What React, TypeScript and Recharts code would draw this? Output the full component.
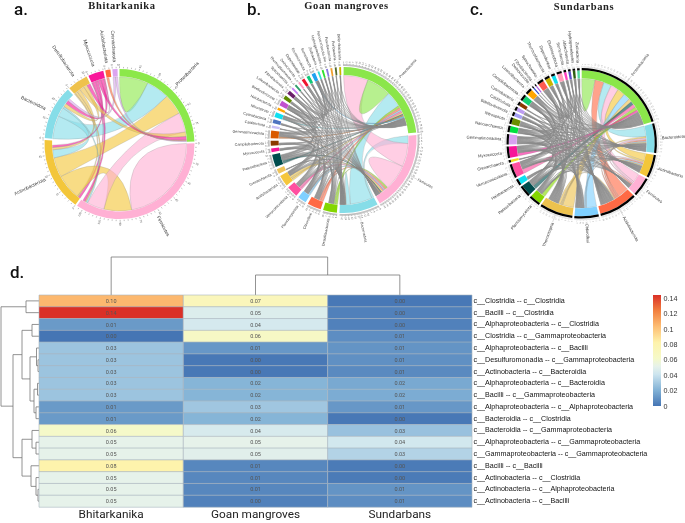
import React from "react";
import { BarChart, Bar, Cell, XAxis, YAxis, LabelList, Pie, PieChart, Customized } from "recharts";

/* ---------- chord data ---------- */
const bhitNames = ["Proteobacteria", "Firmicutes", "Actinobacteriota", "Bacteroidota", "Desulfobacterota", "Myxococcota", "Acidobacteriota", "Crenarchaeota"];
const bhitValues = [88, 125, 57, 42, 16, 12, 4, 4];
const bhitColors = ["#8CE84A", "#FFB0D4", "#F3C63A", "#86DDE8", "#EFC24C", "#F9179A", "#FF6B3A", "#DCA4F0"];
const bhitLinks: number[][] = [
  [0, 0, 12, 13, 1], [1, 1, 40, 40, 1], [2, 5, 2, 1, 1], [2, 4, 1, 1, 1], [1, 2, 24, 22, 1], [0, 3, 20, 20, 1],
  [0, 2, 18, 17, 1], [2, 3, 7, 8, 1], [0, 1, 17, 15, 1], [1, 3, 1.5, 1.5, 1], [1, 4, 1, 2, 1], [1, 5, 2, 3, 1],
  [2, 4, 2, 3, 1], [2, 5, 2, 2, 1], [0, 4, 4, 4, 1], [3, 4, 3, 3, 1], [0, 5, 3, 3, 1], [3, 5, 3, 3, 1],
  [4, 5, 3, 1, 1], [3, 7, 2, 2, 1], [0, 6, 0.7, 2, 1], [0, 7, 0.7, 2, 1],
];

const goanNames = ["Proteobacteria", "Firmicutes", "Bacteroidota", "Desulfobacterota", "Chloroflexi", "Planctomycetota", "Verrucomicrobiota", "Acidobacteriota", "Crenarchaeota", "Patescibacteria", "Myxococcota", "Campilobacterota", "Gemmatimonadota", "Calditrichota", "Cyanobacteria", "Nitrospirota", "Halobacterota", "Bdellovibrionota", "Latescibacterota", "Fibrobacterota", "Spirochaetota", "Thermoplasmatota", "Deinococcota", "Dependentiae", "Elusimicrobiota", "Sumerlaeota", "Zixibacteria", "Hydrogenedentes", "Nanoarchaeota-like", "Fusobacteriota", "Poribacteria", "Deferribacterota"];
const goanValues = [84, 64, 31, 11, 11, 7, 9, 9, 4, 10, 3, 4, 6, 2, 3, 4, 2, 4, 3, 3, 1.5, 1.5, 1.5, 2.5, 2.5, 3, 1.5, 1.5, 1.5, 1.5, 1.5, 1.5];
const goanColors = ["#8BE64A", "#FFB0D4", "#86DDE8", "#84D600", "#FF6A45", "#7FD0FF", "#FF4FA0", "#F5C63C", "#EFC45A", "#004D4D", "#F7169A", "#8B3A00", "#D95A00", "#C9C0F5", "#4E74C0", "#10DFF0", "#FFA500", "#C050D0", "#5E8A00", "#6B1F6B", "#C77DF3", "#2E9E6B", "#FF9EC4", "#F0142D", "#10C878", "#1FA2F0", "#30E0D0", "#30E030", "#8A7BE0", "#F0A030", "#556B2F", "#C8B400"];
const goanColored: number[][] = [
  [1, 2, 7, 2, 1], [0, 1, 22, 21, 1], [0, 0, 11, 11, 1], [1, 1, 11, 12, 1], [0, 2, 14, 21, 1], [2, 2, 2, 2, 1],
  [0, 3, 2, 2, 1], [0, 4, 2, 2.5, 1], [0, 5, 1.2, 1, 1], [0, 6, 1.5, 1.5, 1], [0, 7, 1.5, 2, 1], [0, 9, 1, 1.5, 1],
  [0, 12, 1, 1, 1], [0, 15, 0.8, 0.8, 1], [0, 25, 0.8, 1, 1], [1, 3, 1.5, 1.5, 1], [1, 4, 1.5, 1.5, 1], [1, 5, 1, 1, 1],
  [1, 6, 1, 1.5, 1], [1, 7, 1.5, 1.5, 1], [1, 9, 1, 1.5, 1], [1, 12, 0.8, 1, 1], [2, 7, 0.5, 2, 1],
];
const goanGray: number[][] = [
  [0, 0.35, 8, 10, 11, 13, 14, 16, 17, 18, 19, 20, 21, 22, 23, 24, 26, 27, 28, 29, 30, 31],
  [1, 0.25, 8, 10, 11, 13, 14, 15, 16, 17, 18, 19, 20, 21, 23, 24, 25, 27, 29, 31],
  [2, 0.2, 3, 4, 5, 6, 8, 9, 10, 11, 12, 13, 14, 15, 16, 17, 18, 19, 20, 21, 22, 23, 24, 26, 27, 28, 29, 30, 31],
  [3, 0.5, 4, 5, 6, 7, 9, 12, 15, 17, 25], [4, 0.5, 5, 6, 7, 9, 12, 14, 17, 23], [5, 0.4, 6, 7, 9, 10, 12, 15, 19, 25],
  [6, 0.4, 7, 9, 11, 12, 17, 18], [7, 0.4, 9, 10, 11, 12, 14, 17, 18, 24], [9, 0.4, 10, 11, 12, 15, 16, 17, 19],
  [12, 0.3, 15, 17, 18, 25, 26], [15, 0.25, 17, 19, 24, 25], [17, 0.25, 18, 21, 23, 25, 27], [19, 0.2, 22, 24, 26, 28],
  [23, 0.2, 25, 27, 29], [25, 0.2, 26, 28, 30, 31],
];

const sundNames = ["Proteobacteria", "Bacteroidota", "Actinobacteria", "Firmicutes", "Acidobacteriota", "Chloroflexi", "Thermotogota", "Planctomycetota", "Patescibacteria", "Halobacterota", "Verrucomicrobiota", "Crenarchaeota", "Myxococcota", "Gemmatimonadota", "Nanoarchaeota", "Nitrospirota", "Bdellovibrionota", "Calditrichota", "Cyanobacteria", "Campilobacterota", "Latescibacterota", "Deinococcota", "Fibrobacterota", "Spirochaetota", "Thermoplasmatota", "Dependentiae", "Elusimicrobiota", "Sumerlaeota", "Altiarchaeota", "Hydrogenedentes", "Zixibacteria"];
const sundValues = [73, 23, 18, 15, 30, 19, 26, 9, 9, 5, 11, 2, 9, 8, 5, 5, 3, 3, 3, 5, 5, 1, 1, 5, 4, 3, 4, 2, 2, 2, 2];
const sundColors = ["#8BE64A", "#86DDE8", "#F3C63A", "#FFB0D4", "#FF6A45", "#7FD0FF", "#EDC24E", "#84D600", "#004D4D", "#10DFF0", "#FF4FA0", "#EEE020", "#F7169A", "#D8A0F0", "#00E040", "#6B8E00", "#A6A0F5", "#BC9CF0", "#8B3A00", "#10D070", "#FFA500", "#3050D0", "#B060E0", "#FF5A50", "#C8B400", "#10DFF0", "#FF9EB8", "#FF40C0", "#5A50C8", "#2E5E10", "#50D8A0"];
const sundColored: number[][] = [
  [0, 0, 6, 6, 1], [0, 4, 8, 10, 1], [0, 1, 7, 10, 1], [0, 3, 7, 8, 1], [0, 2, 7, 7, 1], [0, 5, 6, 9, 1], [0, 6, 3, 10, 1],
  [0, 8, 3, 4, 1], [0, 10, 3, 4, 1], [0, 7, 3, 4, 1], [0, 12, 2, 3, 1], [1, 2, 1.5, 1.5, 1], [1, 3, 1.5, 1.5, 1], [1, 4, 1.5, 1.5, 1],
  [1, 5, 1, 1, 1], [1, 6, 1, 1, 1], [2, 3, 1, 1, 1], [2, 4, 1, 1.5, 1], [2, 5, 1, 1, 1], [2, 6, 1, 1, 1], [3, 4, 1, 1, 1], [4, 6, 1, 2, 1],
];
const sundGray: number[][] = [
  [0, 0.6, 9, 11, 13, 14, 15, 16, 17, 18, 19, 20, 21, 22, 23, 24, 25, 26, 27, 28, 29, 30],
  [1, 0.5, 7, 8, 9, 10, 11, 12, 13, 14, 15, 16, 17, 19, 20, 23, 24, 26],
  [2, 0.5, 7, 8, 9, 10, 12, 13, 14, 15, 16, 19, 20, 23, 26],
  [3, 0.4, 7, 8, 10, 12, 13, 14, 15, 19, 24, 27],
  [4, 0.6, 7, 8, 9, 10, 12, 13, 14, 15, 16, 17, 18, 19, 20, 23, 24, 25, 26, 27, 28, 29, 30],
  [5, 0.5, 7, 8, 9, 10, 12, 13, 14, 15, 16, 17, 19, 20, 23, 26, 28, 30],
  [6, 0.6, 7, 8, 10, 12, 13, 14, 15, 16, 19, 20, 23, 24, 25, 27, 29, 30],
  [7, 0.4, 8, 10, 12, 13, 14, 16, 19, 23, 26], [8, 0.4, 10, 12, 13, 15, 19, 20, 24], [10, 0.4, 12, 13, 14, 16, 19, 23, 25, 29],
  [12, 0.4, 13, 14, 15, 19, 20, 26], [13, 0.3, 14, 16, 17, 20, 23, 27], [14, 0.3, 15, 19, 24, 28], [19, 0.3, 20, 23, 26, 30], [20, 0.3, 23, 25, 27, 29],
];

/* ---------- heatmap data ---------- */
const pairs = [
  "c__Clostridia -- c__Clostridia", "c__Bacilli -- c__Clostridia", "c__Alphaproteobacteria -- c__Clostridia",
  "c__Clostridia -- c__Gammaproteobacteria", "c__Alphaproteobacteria -- c__Bacilli", "c__Desulfuromonadia -- c__Gammaproteobacteria",
  "c__Actinobacteria -- c__Bacteroidia", "c__Alphaproteobacteria -- c__Bacteroidia", "c__Bacilli -- c__Gammaproteobacteria",
  "c__Alphaproteobacteria -- c__Alphaproteobacteria", "c__Bacteroidia -- c__Clostridia", "c__Bacteroidia -- c__Gammaproteobacteria",
  "c__Alphaproteobacteria -- c__Gammaproteobacteria", "c__Gammaproteobacteria -- c__Gammaproteobacteria", "c__Bacilli -- c__Bacilli",
  "c__Actinobacteria -- c__Clostridia", "c__Actinobacteria -- c__Alphaproteobacteria", "c__Actinobacteria -- c__Bacilli",
];
const sites = ["Bhitarkanika", "Goan mangroves", "Sundarbans"];
const bhitRow = [0.102, 0.14, 0.012, 0.0, 0.027, 0.027, 0.027, 0.027, 0.027, 0.012, 0.012, 0.06, 0.05, 0.05, 0.08, 0.05, 0.05, 0.05];
const goanRow = [0.07, 0.046, 0.043, 0.063, 0.011, 0.001, 0.001, 0.021, 0.021, 0.028, 0.021, 0.044, 0.05, 0.048, 0.006, 0.006, 0.006, 0.004];
const sundRow = [0.001, 0.004, 0.004, 0.008, 0.01, 0.009, 0.007, 0.017, 0.018, 0.011, 0.001, 0.026, 0.042, 0.033, 0.002, 0.002, 0.01, 0.008];
const heatRows = pairs.map((pair, i) => ({ pair, [sites[0]]: bhitRow[i], [sites[1]]: goanRow[i], [sites[2]]: sundRow[i] }));

const legendTicks = [0, 0.02, 0.04, 0.06, 0.08, 0.1, 0.12, 0.14];
const scaleStops: [number, string][] = [
  [0, "#4575B4"], [0.02, "#82B2D6"], [0.04, "#CDE5EF"], [0.05, "#E6F2EA"], [0.06, "#F5F9C9"], [0.08, "#FEF3AC"], [0.1, "#FDBE74"], [0.12, "#F2803F"], [0.14, "#DA3027"],
];

/* dendrograms: [distance, child, child]; a leaf is a row or column index */
const leftTree: any = [38, [13, 0, 1], [26, [17, [7, 2, 3], [9, [2.5, 4, [1, 5, 6]], [5, [1.5, 7, 8], [3, 9, 10]]]], [17, [7, 11, [3, 12, 13]], [8, 14, [3, 15, [1, 16, 17]]]]]];
const topTree: any = [38, 0, [20, 1, 2]];

/* ---------- geometry ---------- */
const plot = { left: 39, right: 472, top: 295, bottom: 507 };
const pt = (cx: number, cy: number, r: number, a: number) => [cx + r * Math.sin((a * Math.PI) / 180), cy - r * Math.cos((a * Math.PI) / 180)];

function lerpColor(v: number) {
  const hex = (s: string) => [1, 3, 5].map((i) => parseInt(s.slice(i, i + 2), 16));
  for (let i = 1; i < scaleStops.length; i++) {
    if (v <= scaleStops[i][0]) {
      const [v0, c0] = scaleStops[i - 1];
      const [v1, c1] = scaleStops[i];
      const t = (v - v0) / (v1 - v0);
      const a = hex(c0), b = hex(c1);
      return `rgb(${a.map((x, k) => Math.round(x + (b[k] - x) * t)).join(",")})`;
    }
  }
  return scaleStops[scaleStops.length - 1][1];
}

function expandGray(rows: number[][]) {
  const out: number[][] = [];
  rows.forEach(([src, amt, ...targets]) => targets.forEach((t) => out.push([src, t, amt, amt, 0])));
  return out;
}

function sectorsLayout(values: number[], gap: number) {
  const total = values.reduce((s, v) => s + v, 0);
  const k = (360 - values.length * gap) / total;
  let a = 0;
  return values.map((v) => {
    const s = { start: a, end: a + v * k };
    a = s.end + gap;
    return s;
  });
}

type Panel = {
  names: string[]; values: number[]; colors: string[]; links: number[][]; cx: number; cy: number;
  rIn: number; rOut: number; gap: number; band?: [number, number, string]; tick: [number, number, string, number];
  numEvery: number; numSize: number; numColor: string; labelR: number; labelSize: number; leaderMin: number;
};

function Ribbons({ p }: { p: Panel }) {
  const sec = sectorsLayout(p.values, p.gap);
  const k = (sec[0].end - sec[0].start) / p.values[0];
  const used = p.values.map(() => 0);
  p.links.forEach(([a, b, wa, wb]) => { used[a] += wa; used[b] += wb; });
  const fit = p.values.map((v, i) => Math.min(1, v / Math.max(used[i], 1e-6)) * k);
  const cursor = sec.map((s) => s.start);
  const r = p.rIn - 0.4;
  const feet = (i: number, w: number) => { const a0 = cursor[i]; cursor[i] += w * fit[i]; return [a0, cursor[i]]; };
  const P = (a: number) => pt(p.cx, p.cy, r, a).map((n) => n.toFixed(2)).join(" ");
  const arc = (a: number, b: number) => `A${r} ${r} 0 ${b - a > 180 ? 1 : 0} 1 ${P(b)}`;
  const c = `${p.cx} ${p.cy}`;
  return (
    <g>
      {p.links.map(([a, b, wa, wb, colored], i) => {
        const [a0, a1] = feet(a, wa);
        const [b0, b1] = feet(b, wb);
        const inner = a === b ? "" : `Q${c} ${P(b0)} `;
        const d = `M${P(a0)} ${arc(a0, a1)} ${inner}${arc(b0, b1)} Q${c} ${P(a0)} Z`;
        return colored ? (
          <path key={i} d={d} fill={p.colors[Math.max(a, b)]} fillOpacity={0.62} stroke="#8c8c8c" strokeOpacity={0.7} strokeWidth={0.35} />
        ) : (
          <path key={i} d={d} fill="#8a8a8a" fillOpacity={0.85} stroke="#8a8a8a" strokeWidth={0.25} />
        );
      })}
    </g>
  );
}

function Marks({ p }: { p: Panel }) {
  const sec = sectorsLayout(p.values, p.gap);
  const k = (sec[0].end - sec[0].start) / p.values[0];
  const [tickIn, tickLen, tickColor, step] = p.tick;
  let d = "";
  const nums: React.ReactNode[] = [];
  sec.forEach((s, i) => {
    let n = 0;
    for (let u = 0; u <= p.values[i] + 1e-6; u += step, n++) {
      const a = s.start + u * k;
      const [x0, y0] = pt(p.cx, p.cy, tickIn, a);
      const major = n % p.numEvery === 0;
      const [x1, y1] = pt(p.cx, p.cy, tickIn + tickLen * (major ? 1.4 : 1), a);
      d += `M${x0.toFixed(2)} ${y0.toFixed(2)}L${x1.toFixed(2)} ${y1.toFixed(2)}`;
      if (major) {
        const [tx, ty] = pt(p.cx, p.cy, tickIn + tickLen * 1.4 + 0.8, a);
        const right = a < 180;
        nums.push(
          <text key={`${i}-${n}`} x={tx} y={ty} fontSize={p.numSize} fill={p.numColor} textAnchor={right ? "start" : "end"} dominantBaseline="central"
            transform={`rotate(${right ? a - 90 : a + 90} ${tx} ${ty})`} fontFamily="Liberation Sans">{Math.round(u)}</text>
        );
      }
    }
  });
  return (
    <g>
      <path d={d} stroke={tickColor} strokeWidth={0.35} fill="none" />
      {nums}
      {sec.map((s, i) => {
        const a = (s.start + s.end) / 2;
        const big = s.end - s.start >= p.leaderMin;
        const R = big ? p.labelR + 4 : p.labelR;
        const [x, y] = pt(p.cx, p.cy, R, a);
        const right = a < 180;
        const [lx, ly] = pt(p.cx, p.cy, p.rOut + 3, a);
        const [mx, my] = pt(p.cx, p.cy, R - 0.6, a);
        return (
          <g key={i}>
            {big && <line x1={lx} y1={ly} x2={mx} y2={my} stroke="#9a9a9a" strokeWidth={0.35} />}
            <text x={x} y={y} fontSize={p.labelSize} fill="#3a3a3a" textAnchor={right ? "start" : "end"} dominantBaseline="central"
              transform={`rotate(${right ? a - 90 : a + 90} ${x} ${y})`} fontFamily="Liberation Sans">{p.names[i]}</text>
          </g>
        );
      })}
    </g>
  );
}

function Chord({ p }: { p: Panel }) {
  const data = p.names.map((name, i) => ({ name, value: p.values[i] }));
  return (
    <div style={{ position: "absolute", left: 0, top: 0 }}>
      <PieChart width={685} height={250} margin={{ top: 0, right: 0, bottom: 0, left: 0 }}>
        <Customized component={<Ribbons p={p} />} />
        <Pie data={data} dataKey="value" cx={p.cx} cy={p.cy} innerRadius={p.rIn} outerRadius={p.rOut} startAngle={90} endAngle={-270}
          paddingAngle={p.gap} stroke="none" isAnimationActive={false}>
          {data.map((d, i) => <Cell key={d.name} fill={p.colors[i]} />)}
        </Pie>
        {p.band && (
          <Pie data={data} dataKey="value" cx={p.cx} cy={p.cy} innerRadius={p.band[0]} outerRadius={p.band[1]} startAngle={90} endAngle={-270}
            paddingAngle={p.gap} stroke="none" fill={p.band[2]} isAnimationActive={false} />
        )}
        <Customized component={<Marks p={p} />} />
      </PieChart>
    </div>
  );
}

const panels: Panel[] = [
  { names: bhitNames, values: bhitValues, colors: bhitColors, links: bhitLinks, cx: 119.5, cy: 144, rIn: 67.5, rOut: 75, gap: 1.5,
    tick: [75.8, 1.4, "#444", 3], numEvery: 5, numSize: 2.8, numColor: "#555", labelR: 82, labelSize: 4.8, leaderMin: 999 },
  { names: goanNames, values: goanValues, colors: goanColors, links: [...goanColored, ...expandGray(goanGray)], cx: 343.6, cy: 140, rIn: 65, rOut: 73, gap: 2,
    tick: [74, 1.8, "#333", 0.8], numEvery: 3, numSize: 2.4, numColor: "#555", labelR: 80, labelSize: 3.7, leaderMin: 25 },
  { names: sundNames, values: sundValues, colors: sundColors, links: [...sundColored, ...expandGray(sundGray)], cx: 581.7, cy: 143.3, rIn: 65, rOut: 73, gap: 1.55,
    band: [73, 75.2, "#000"], tick: [75.6, 1.4, "#aaa", 0.8], numEvery: 3, numSize: 2.2, numColor: "#aaa", labelR: 80.5, labelSize: 4.1, leaderMin: 25 },
];

/* ---------- dendrograms ---------- */
function Dendro() {
  const rowH = (plot.bottom - plot.top) / pairs.length;
  const colW = (plot.right - plot.left) / sites.length;
  let d = "";
  const walkL = (n: any): [number, number] => {
    if (typeof n === "number") return [plot.top + (n + 0.5) * rowH, plot.left];
    const [dist, a, b] = n;
    const x = plot.left - dist;
    const [ya, xa] = walkL(a);
    const [yb, xb] = walkL(b);
    d += `M${xa} ${ya}H${x}V${yb}H${xb}`;
    return [(ya + yb) / 2, x];
  };
  const walkT = (n: any): [number, number] => {
    if (typeof n === "number") return [plot.left + (n + 0.5) * colW, plot.top];
    const [dist, a, b] = n;
    const y = plot.top - dist;
    const [xa, ya] = walkT(a);
    const [xb, yb] = walkT(b);
    d += `M${xa} ${ya}V${y}H${xb}V${yb}`;
    return [(xa + xb) / 2, y];
  };
  walkL(leftTree);
  walkT(topTree);
  return <path d={d} transform="translate(0 -250)" fill="none" stroke="#777" strokeWidth={0.8} />;
}

function PairTick({ x, y, payload }: any) {
  return (
    <text x={x + 1.5} y={y} dominantBaseline="central" fontFamily="Liberation Sans" fontSize={7.15} fill="#111">{payload.value}</text>
  );
}

const letters = [["a.", 14, 15], ["b.", 247, 15], ["c.", 470, 15], ["d.", 10, 278]] as const;
const titles = [["Bhitarkanika", 122, 9], ["Goan mangroves", 346.5, 9], ["Sundarbans", 584, 9.5]] as const;

export default function App() {
  return (
    <div style={{ position: "absolute", left: 0, top: 0, width: 685, height: 523, background: "#fff", overflow: "hidden", filter: "blur(0.3px)" }}>
      {panels.map((p) => <Chord key={p.cx} p={p} />)}
      <svg width={685} height={523} style={{ position: "absolute", left: 0, top: 0, pointerEvents: "none" }}>
        {letters.map(([t, x, y]) => (
          <text key={t} x={x} y={y} fontFamily="Roboto" fontWeight={500} fontSize={17} fill="#111">{t}</text>
        ))}
        {titles.map(([t, x, y]) => (
          <text key={t} x={x} y={y} textAnchor="middle" fontFamily="Liberation Serif" fontWeight={700} fontSize={10.5} letterSpacing={0.6} fill="#222">{t}</text>
        ))}
      </svg>
      <div style={{ position: "absolute", left: 0, top: 250 }}>
        <BarChart width={685} height={273} data={heatRows} layout="vertical" barCategoryGap={0} margin={{ top: 45, right: 0, bottom: 0, left: 39 }}>
          <XAxis type="number" domain={[0, 3]} ticks={[0.5, 1.5, 2.5]} tickFormatter={(v: number) => sites[Math.floor(v)]} axisLine={false} tickLine={false}
            height={16} interval={0} tickSize={0} tickMargin={2.5} tick={{ fontFamily: "Roboto", fontSize: 11.8, fill: "#222" }} />
          <YAxis type="category" dataKey="pair" orientation="right" width={213} axisLine={false} tickLine={false} interval={0} tickSize={0} tickMargin={0}
            tick={<PairTick />} />
          {sites.map((site) => (
            <Bar key={site} name={site} dataKey={() => 1} stackId="h" isAnimationActive={false}>
              {heatRows.map((row: any) => <Cell key={row.pair} fill={lerpColor(row[site])} stroke="#a9b6c0" strokeWidth={0.6} />)}
              <LabelList dataKey={site} position="center" formatter={(v: any) => Number(v).toFixed(2)} style={{ fontFamily: "Roboto", fontSize: 5.5, fill: "#555" }} />
            </Bar>
          ))}
          <Customized component={<Dendro />} />
        </BarChart>
      </div>
      <div style={{ position: "absolute", left: 652.7, top: 290 }}>
        <svg width={0} height={0} style={{ position: "absolute" }}>
          <defs>
            <linearGradient id="heatScale" x1="0" y1="1" x2="0" y2="0">
              {scaleStops.map(([v, c]) => <stop key={v} offset={v / 0.14} stopColor={c} />)}
            </linearGradient>
          </defs>
        </svg>
        <BarChart width={30} height={121} data={[{ max: 0.1445 }]} barCategoryGap={0} margin={{ top: 5, right: 0, bottom: 5, left: 0 }}>
          <XAxis hide dataKey="max" />
          <YAxis orientation="right" width={22} domain={[0, 0.1445]} ticks={legendTicks} interval={0} axisLine={false} tickLine={false} tickSize={0} tickMargin={2.5}
            tick={{ fontFamily: "Liberation Sans", fontSize: 7.2, fill: "#333" }} />
          <Bar dataKey="max" fill="url(#heatScale)" isAnimationActive={false} />
        </BarChart>
      </div>
    </div>
  );
}
